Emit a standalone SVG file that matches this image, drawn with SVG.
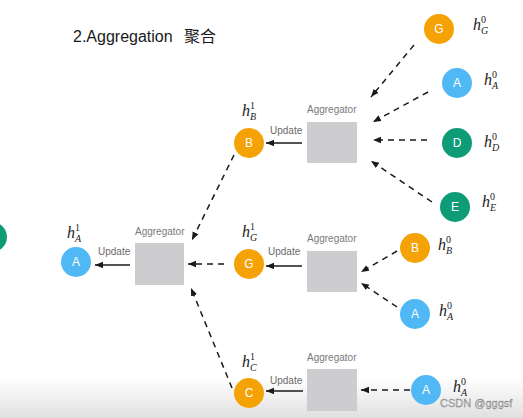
<svg xmlns="http://www.w3.org/2000/svg" width="523" height="418" viewBox="0 0 523 418">
<style>
.orange{fill:#F5A207}
.blue{fill:#50B8F4}
.green{fill:#0E9B78}
.nl{font-family:"Liberation Sans",Arial,sans-serif;font-size:12px;fill:#fff;text-anchor:middle}
.agg{fill:#CDCDCF}
.aggl{font-family:"Liberation Sans",Arial,sans-serif;font-size:10px;fill:#7a7a7a}
.upd{font-family:"Liberation Sans",Arial,sans-serif;font-size:10px;fill:#6a6a6a}
.h{font-family:"Liberation Serif","Times New Roman",serif;font-size:16px;fill:#222}
.hi{font-style:italic}
.s{font-size:10px}
.solid{stroke:#1a1a1a;stroke-width:1.4;fill:none}
.dash{stroke:#1a1a1a;stroke-width:1.5;fill:none;stroke-dasharray:6 5}
</style>
<defs>
<linearGradient id="bot" x1="0" y1="0" x2="0" y2="1">
<stop offset="0" stop-color="#ffffff"/>
<stop offset="1" stop-color="#e0e0e0"/>
</linearGradient>
<marker id="ah" markerUnits="userSpaceOnUse" markerWidth="8" markerHeight="8" viewBox="0 0 8 8" refX="8" refY="4" orient="auto">
<path d="M0,0.8 L8,4 L0,7.2 Z" fill="#1a1a1a"/>
</marker>
</defs>
<rect width="523" height="418" fill="#fff"/>
<rect x="0" y="378" width="523" height="40" fill="url(#bot)"/>

<text x="73" y="42" font-family="Liberation Sans,Arial,'Noto Sans CJK SC',sans-serif" font-size="16" fill="#1a1a1a">2.Aggregation<tspan x="184" font-family="'Noto Sans CJK SC',sans-serif">聚合</tspan></text>

<g id="connectors">
<line class="solid" x1="302" y1="143" x2="266" y2="143" marker-end="url(#ah)"/>
<line class="solid" x1="130" y1="265" x2="95" y2="265" marker-end="url(#ah)"/>
<line class="solid" x1="302" y1="266" x2="266" y2="266" marker-end="url(#ah)"/>
<line class="solid" x1="303" y1="391" x2="266" y2="391" marker-end="url(#ah)"/>
<line class="dash" x1="414" y1="45" x2="371" y2="97" marker-end="url(#ah)"/>
<line class="dash" x1="428" y1="92" x2="373" y2="122" marker-end="url(#ah)"/>
<line class="dash" x1="427" y1="140" x2="373" y2="140" marker-end="url(#ah)"/>
<line class="dash" x1="432" y1="202" x2="371" y2="161" marker-end="url(#ah)"/>
<line class="dash" x1="234" y1="155" x2="192" y2="240" marker-end="url(#ah)"/>
<line class="dash" x1="224" y1="264" x2="188" y2="264" marker-end="url(#ah)"/>
<line class="dash" x1="232" y1="388" x2="191" y2="288" marker-end="url(#ah)"/>
<line class="dash" x1="397" y1="251" x2="361" y2="272" marker-end="url(#ah)"/>
<line class="dash" x1="397" y1="307" x2="361" y2="283" marker-end="url(#ah)"/>
<line class="dash" x1="410" y1="390" x2="361" y2="390" marker-end="url(#ah)"/>
</g>

<g id="agg-top"><text class="aggl" x="307" y="113">Aggregator</text><rect class="agg" x="307" y="122" width="50" height="41"/><text class="upd" x="270" y="134">Update</text></g>
<g id="agg-mid"><text class="aggl" x="135" y="235">Aggregator</text><rect class="agg" x="135" y="243" width="49" height="42"/><text class="upd" x="98" y="255">Update</text></g>
<g id="agg-right"><text class="aggl" x="307" y="242">Aggregator</text><rect class="agg" x="307" y="251" width="50" height="41"/><text class="upd" x="268" y="255">Update</text></g>
<g id="agg-bot"><text class="aggl" x="307" y="361">Aggregator</text><rect class="agg" x="307" y="369" width="50" height="42"/><text class="upd" x="270" y="384">Update</text></g>

<g id="edge-node"><circle class="green" cx="-8" cy="237" r="15"/></g>

<g id="A1"><circle class="blue" cx="76" cy="262" r="15"/><text class="nl" x="76" y="266">A</text>
<text class="h" x="67" y="238"><tspan class="hi">h</tspan><tspan class="s" dy="-7">1</tspan><tspan class="s hi" dx="-5" dy="11">A</tspan></text></g>

<g id="B1"><circle class="orange" cx="249" cy="143" r="15"/><text class="nl" x="249" y="147">B</text>
<text class="h" x="242" y="116"><tspan class="hi">h</tspan><tspan class="s" dy="-7">1</tspan><tspan class="s hi" dx="-5" dy="11">B</tspan></text></g>

<g id="G1"><circle class="orange" cx="249" cy="264" r="15"/><text class="nl" x="249" y="268">G</text>
<text class="h" x="242" y="237"><tspan class="hi">h</tspan><tspan class="s" dy="-7">1</tspan><tspan class="s hi" dx="-5" dy="11">G</tspan></text></g>

<g id="C1"><circle class="orange" cx="249" cy="393" r="15"/><text class="nl" x="249" y="397">C</text>
<text class="h" x="242" y="367"><tspan class="hi">h</tspan><tspan class="s" dy="-7">1</tspan><tspan class="s hi" dx="-5" dy="11">C</tspan></text></g>

<g id="G0"><circle class="orange" cx="439" cy="29" r="15"/><text class="nl" x="439" y="33">G</text>
<text class="h" x="473" y="30"><tspan class="hi">h</tspan><tspan class="s" dy="-7">0</tspan><tspan class="s hi" dx="-5" dy="11">G</tspan></text></g>

<g id="A0a"><circle class="blue" cx="457" cy="83" r="15"/><text class="nl" x="457" y="87">A</text>
<text class="h" x="484" y="85"><tspan class="hi">h</tspan><tspan class="s" dy="-7">0</tspan><tspan class="s hi" dx="-5" dy="11">A</tspan></text></g>

<g id="D0"><circle class="green" cx="457" cy="143" r="15"/><text class="nl" x="457" y="147">D</text>
<text class="h" x="484" y="147"><tspan class="hi">h</tspan><tspan class="s" dy="-7">0</tspan><tspan class="s hi" dx="-5" dy="11">D</tspan></text></g>

<g id="E0"><circle class="green" cx="455" cy="207" r="15"/><text class="nl" x="455" y="211">E</text>
<text class="h" x="482" y="207"><tspan class="hi">h</tspan><tspan class="s" dy="-7">0</tspan><tspan class="s hi" dx="-5" dy="11">E</tspan></text></g>

<g id="B0"><circle class="orange" cx="415" cy="248" r="15"/><text class="nl" x="415" y="252">B</text>
<text class="h" x="438" y="250"><tspan class="hi">h</tspan><tspan class="s" dy="-7">0</tspan><tspan class="s hi" dx="-5" dy="11">B</tspan></text></g>

<g id="A0b"><circle class="blue" cx="415" cy="314" r="15"/><text class="nl" x="415" y="318">A</text>
<text class="h" x="439" y="316"><tspan class="hi">h</tspan><tspan class="s" dy="-7">0</tspan><tspan class="s hi" dx="-5" dy="11">A</tspan></text></g>

<g id="A0c"><circle class="blue" cx="426" cy="390" r="15"/><text class="nl" x="426" y="394">A</text>
<text class="h" x="453" y="392"><tspan class="hi">h</tspan><tspan class="s" dy="-7">0</tspan><tspan class="s hi" dx="-5" dy="11">A</tspan></text></g>

<text x="440" y="407" font-family="Liberation Sans,Arial,sans-serif" font-size="11" fill="#b8b8b8" stroke="#7a7a7a" stroke-width="0.3">CSDN @gggsf</text>
</svg>
